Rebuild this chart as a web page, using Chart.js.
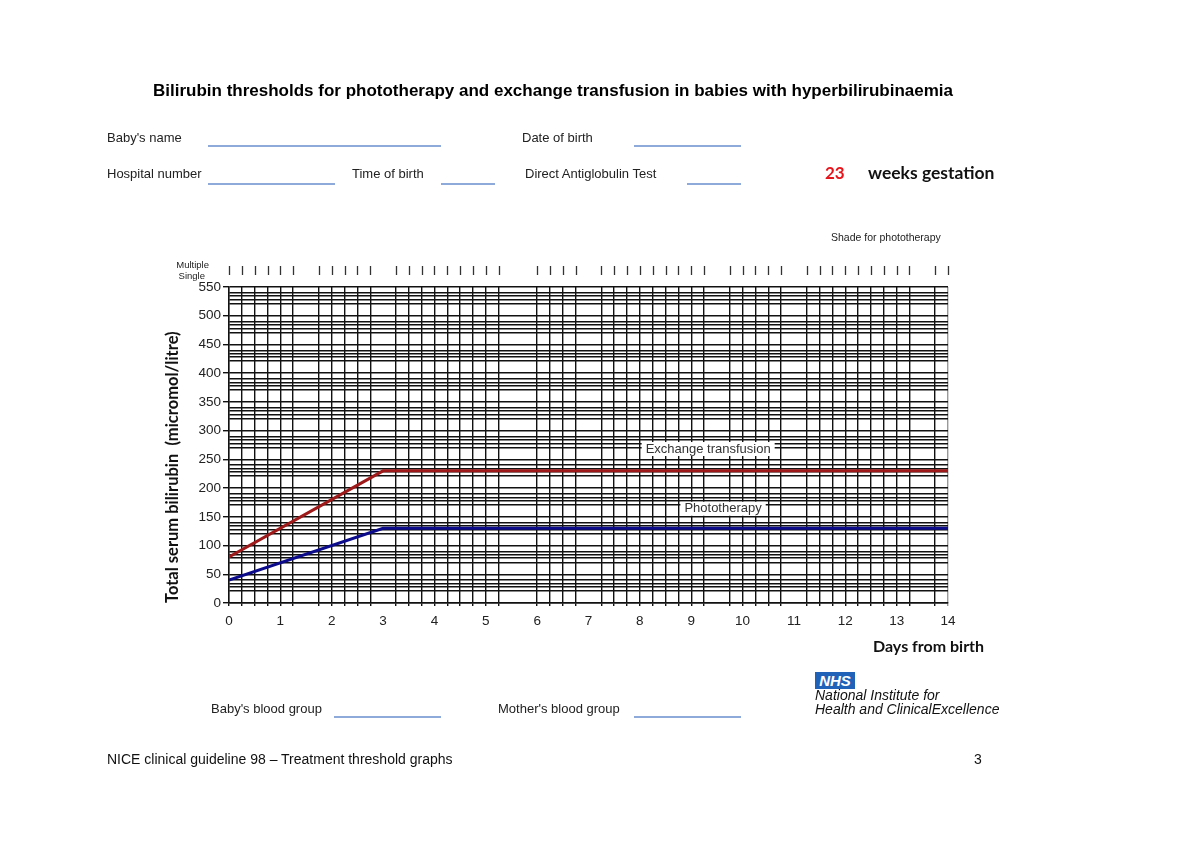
<!DOCTYPE html>
<html>
<head>
<meta charset="utf-8">
<script src="https://cdn.jsdelivr.net/npm/chart.js@4"></script>
<style>
  body { margin: 0; background: #fff; }
  #page { position: relative; width: 1200px; height: 849px; overflow: hidden;
          font-family: "Liberation Sans", Arial, sans-serif; color: #222; }
  #page canvas { position: absolute; left: 0; top: 0; }
  .t { position: absolute; white-space: nowrap; line-height: 1; }
  .ln { position: absolute; height: 2px; background: #8eaadb; }
  .cal { font-family: Lato, "Open Sans", sans-serif; font-weight: bold; }
</style>
</head>
<body>
<div id="page">
  <canvas id="bili-chart" width="1200" height="849"></canvas>

  <div class="t" style="left:153px;top:82px;font-size:17px;font-weight:bold;color:#000">Bilirubin thresholds for phototherapy and exchange transfusion in babies with hyperbilirubinaemia</div>

  <div class="t" style="left:107px;top:131px;font-size:13px">Baby's name</div>
  <div class="ln" style="left:208px;top:145px;width:233px"></div>
  <div class="t" style="left:522px;top:131px;font-size:13px">Date of birth</div>
  <div class="ln" style="left:634px;top:145px;width:107px"></div>

  <div class="t" style="left:107px;top:167px;font-size:13px">Hospital number</div>
  <div class="ln" style="left:208px;top:183px;width:127px"></div>
  <div class="t" style="left:352px;top:167px;font-size:13px">Time of birth</div>
  <div class="ln" style="left:441px;top:183px;width:54px"></div>
  <div class="t" style="left:525px;top:167px;font-size:13px">Direct Antiglobulin Test</div>
  <div class="ln" style="left:687px;top:183px;width:54px"></div>

  <div class="t cal" style="left:825px;top:164px;font-size:17px;color:#e8141c">23</div>
  <div class="t cal" style="left:868px;top:164px;font-size:17.5px;color:#111">weeks gestation</div>

  <div class="t" style="left:831px;top:232px;font-size:10.5px">Shade for phototherapy</div>
  <div class="t" style="left:170px;top:260px;width:39px;text-align:right;font-size:9.5px">Multiple</div>
  <div class="t" style="left:170px;top:271px;width:35px;text-align:right;font-size:9.5px">Single</div>

  <div class="t cal" style="left:873px;top:638px;font-size:16px;color:#111">Days from birth</div>

  <div class="t" style="left:211px;top:702px;font-size:13px">Baby's blood group</div>
  <div class="ln" style="left:334px;top:716px;width:107px"></div>
  <div class="t" style="left:498px;top:702px;font-size:13px">Mother's blood group</div>
  <div class="ln" style="left:634px;top:716px;width:107px"></div>

  <div class="t" style="left:815px;top:672px;width:40px;height:17px;background:#1f62b8;color:#fff;font-size:15px;font-weight:bold;font-style:italic;text-align:center;line-height:17px">NHS</div>
  <div class="t" style="left:815px;top:688px;font-size:14px;font-style:italic;color:#111">National Institute for</div>
  <div class="t" style="left:815px;top:702px;font-size:14px;font-style:italic;color:#111">Health and ClinicalExcellence</div>

  <div class="t" style="left:107px;top:752px;font-size:14px;color:#111">NICE clinical guideline 98 – Treatment threshold graphs</div>
  <div class="t" style="left:974px;top:752px;font-size:14px;color:#111">3</div>
</div>

<script>
// Threshold lines (days from birth / micromol per litre)
const days = [0, 3, 14];
const exchangeVals = [80, 230, 230];
const phototherapyVals = [40, 130, 130];

// Axis tick labels
const xTicks = [0, 1, 2, 3, 4, 5, 6, 7, 8, 9, 10, 11, 12, 13, 14];
const yTicks = [0, 50, 100, 150, 200, 250, 300, 350, 400, 450, 500, 550];

// Chart form grid (irregular, as printed on the form)
const vGrid = [0, 0.25, 0.5, 0.75, 1, 1.25, 1.75, 2, 2.25, 2.5, 2.75,
  3.25, 3.5, 3.75, 4, 4.25, 4.5, 4.75, 5, 5.25,
  6, 6.25, 6.5, 6.75, 7.25, 7.5, 7.75, 8, 8.25, 8.5, 8.75, 9, 9.25,
  9.75, 10, 10.25, 10.5, 10.75, 11.25, 11.5, 11.75, 12, 12.25, 12.5, 12.75, 13, 13.25,
  13.75, 14];
const hGrid = [0, 21, 28, 34, 40, 50, 71, 78, 84, 90, 100,
  121, 128, 134, 140, 150, 171, 178, 184, 190, 200,
  221, 228, 234, 240, 250, 271, 278, 284, 290, 300,
  321, 328, 334, 340, 350, 371, 378, 384, 390, 400,
  421, 428, 434, 440, 450, 471, 478, 484, 490, 500,
  521, 528, 534, 540, 550];

// In-chart line labels
const lineLabels = ['Exchange transfusion', 'Phototherapy'];
const labelDays = [9.33, 9.62];
const labelVals = [268, 164];

const formExtras = {
  id: 'formExtras',
  afterDraw(chart) {
    const { ctx, chartArea, scales: { x, y } } = chart;
    ctx.save();
    // Multiple / Single tick row above the grid
    ctx.strokeStyle = '#333';
    ctx.lineWidth = 1.3;
    vGrid.forEach(d => {
      const px = Math.round(x.getPixelForValue(d)) + 0.5;
      ctx.beginPath();
      ctx.moveTo(px, chartArea.top - 21);
      ctx.lineTo(px, chartArea.top - 12);
      ctx.stroke();
    });
    // line labels with white boxes
    ctx.font = '13px "Liberation Sans", Arial, sans-serif';
    ctx.textAlign = 'center';
    ctx.textBaseline = 'middle';
    lineLabels.forEach((txt, i) => {
      const px = x.getPixelForValue(labelDays[i]);
      const py = y.getPixelForValue(labelVals[i]);
      const w = ctx.measureText(txt).width + 8;
      ctx.fillStyle = '#fff';
      ctx.fillRect(px - w / 2, py - 7, w, 14);
      ctx.fillStyle = '#333';
      ctx.fillText(txt, px, py);
    });
    ctx.restore();
  }
};

new Chart(document.getElementById('bili-chart').getContext('2d'), {
  type: 'line',
  data: {
    datasets: [{
      label: 'Exchange transfusion',
      data: days.map((d, i) => ({ x: d, y: exchangeVals[i] })),
      borderColor: '#9e1a1a',
      borderWidth: 3,
      pointRadius: 0,
      tension: 0
    }, {
      label: 'Phototherapy',
      data: days.map((d, i) => ({ x: d, y: phototherapyVals[i] })),
      borderColor: '#0b0b8c',
      borderWidth: 3,
      pointRadius: 0,
      tension: 0
    }]
  },
  options: {
    responsive: false,
    devicePixelRatio: 1,
    animation: false,
    layout: { padding: { left: 160, right: 252, top: 287, bottom: 216 } },
    plugins: { legend: { display: false }, tooltip: { enabled: false } },
    scales: {
      x: {
        type: 'linear',
        min: 0,
        max: 14,
        afterBuildTicks: scale => {
          scale.ticks = [...new Set([...xTicks, ...vGrid])].sort((a, b) => a - b).map(v => ({ value: v }));
        },
        afterFit: scale => { scale.height = 30; },
        ticks: {
          autoSkip: false,
          maxRotation: 0,
          padding: 7,
          color: '#222',
          font: { family: '"Liberation Sans", Arial, sans-serif', size: 13.5 },
          callback: v => xTicks.includes(v) ? String(v) : ''
        },
        grid: {
          lineWidth: 1.4,
          tickLength: 3,
          color: c => vGrid.includes(c.tick.value) ? (c.tick.value === 14 ? '#999' : '#111') : 'rgba(0,0,0,0)'
        },
        border: { color: '#111', width: 1.4 }
      },
      y: {
        type: 'linear',
        min: 0,
        max: 550,
        afterBuildTicks: scale => {
          scale.ticks = hGrid.map(v => ({ value: v }));
        },
        afterFit: scale => { scale.width = 69; },
        ticks: {
          autoSkip: false,
          padding: 2,
          color: '#222',
          font: { family: '"Liberation Sans", Arial, sans-serif', size: 13.5 },
          callback: v => yTicks.includes(v) ? String(v) : ''
        },
        grid: {
          lineWidth: 1.4,
          tickLength: 6,
          color: '#111',
          tickColor: c => yTicks.includes(c.tick.value) ? '#111' : 'rgba(0,0,0,0)'
        },
        border: { color: '#111', width: 1.4 },
        title: {
          display: true,
          text: 'Total serum bilirubin  (micromol/litre)',
          align: 'start',
          color: '#111',
          padding: { top: 3, bottom: 0 },
          font: { family: 'Lato, "Open Sans", sans-serif', size: 16.5, weight: 'bold' }
        }
      }
    }
  },
  plugins: [formExtras]
});
</script>
</body>
</html>
